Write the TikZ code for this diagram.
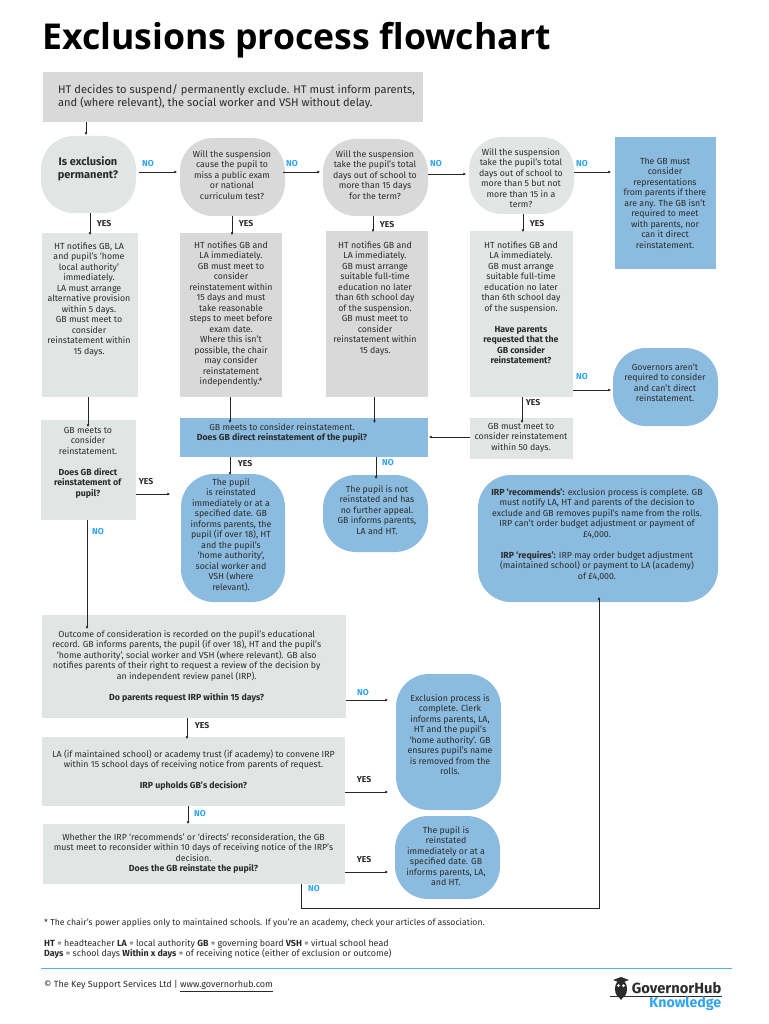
\documentclass[tikz,border=0pt]{standalone}
\usepackage{fontspec}
\setmainfont{Fira Sans}
\newfontfamily\titlefont{Open Sans}
\usetikzlibrary{arrows.meta}
\definecolor{pale}{HTML}{E1E6E5}
\definecolor{midgrey}{HTML}{D9D9D9}
\definecolor{skyblue}{HTML}{8BBCDF}
\definecolor{nocol}{HTML}{2FA4F2}
\definecolor{inkc}{HTML}{2B2B2B}
\newcommand{\bodyfont}{\fontsize{8.8}{10.5}\selectfont}
\newcommand{\firstl}{\rule{0pt}{8pt}}
\newcommand{\bx}[9]{%
  \pgfmathsetmacro\cxx{(#3+#5)/2}%
  \pgfmathsetmacro\cyy{(#4+#6)/2}%
  \pgfmathsetmacro\ww{#5-#3}%
  \pgfmathsetmacro\hh{#6-#4}%
  \pgfmathsetmacro\ty{#8-5}%
  \node[#2,minimum width=\ww pt,minimum height=\hh pt] (#1) at (\cxx,\cyy) {};
  \node[txt] (#1-t) at (#7,\ty) {\firstl #9};
}
\tikzset{
  x=1pt,y=-1pt,
  txt/.style={anchor=north,inner sep=0pt,align=center,text=inkc,font=\bodyfont},
  pbox/.style={fill=pale,inner sep=0pt,outer sep=0pt},
  gbox/.style={fill=midgrey,inner sep=0pt,outer sep=0pt},
  bbox/.style={fill=skyblue,inner sep=0pt,outer sep=0pt},
  pdec/.style={pbox,rounded corners=33pt},
  gdec/.style={gbox,rounded corners=33pt},
  bdec/.style={bbox,rounded corners=33pt},
  arr/.style={draw=black!85,line width=0.9pt,-{Latex[length=2.6pt,width=2.8pt]}},
  yeslab/.style={font=\fontsize{8.6}{10}\selectfont\bfseries,text=inkc,inner sep=0pt},
  nolab/.style={font=\fontsize{8.6}{10}\selectfont\bfseries,text=nocol,inner sep=0pt},
}
\begin{document}
\begin{tikzpicture}
\useasboundingbox (0,0) rectangle (768,1024);
\fill[white] (0,0) rectangle (768,1024);
\node[anchor=west,inner sep=0pt,font=\titlefont\fontsize{35.6}{40}\selectfont\bfseries,text=black] (title) at (42,40) {Exclusions process flowchart};

% top
\node[gbox,minimum width=380pt,minimum height=50pt] (top) at (233,97) {};
\node[anchor=north west,inner sep=0pt,align=left,text=inkc,font=\fontsize{11.1}{13}\selectfont] (top-t) at (58,84) {HT decides to suspend/ permanently exclude. HT must inform parents,\\and (where relevant), the social worker and VSH without delay.};

% decisions
\bx{d1}{pdec}{41}{136}{136}{213}{88}{161}{\fontsize{11}{13}\selectfont\textbf{Is exclusion}\\[2.5pt]\fontsize{11}{13}\selectfont\textbf{permanent?}}
\bx{d2}{gdec}{180}{138}{285}{216}{232}{154}{Will the suspension\\cause the pupil to\\miss a public exam\\or national\\curriculum test?}
\bx{d3}{gdec}{323}{139}{428}{216}{375}{154}{Will the suspension\\take the pupil's total\\days out of school to\\more than 15 days\\for the term?}
\bx{d4}{pdec}{469}{137}{574}{214}{521}{152}{Will the suspension\\take the pupil's total\\days out of school to\\more than 5 but not\\more than 15 in a\\term?}
\bx{r1}{bbox}{615}{137}{716}{269}{665}{161}{The GB must\\consider\\representations\\from parents if there\\are any. The GB isn't\\required to meet\\with parents, nor\\can it direct\\reinstatement.}

% second row
\bx{b1}{pbox}{42}{233}{138}{397}{89}{246}{HT notifies GB, LA\\and pupil's ‘home\\local authority’\\immediately.\\LA must arrange\\alternative provision\\within 5 days.\\GB must meet to\\consider\\reinstatement within\\15 days.}
\bx{b2}{gbox}{180}{233}{282}{397}{231}{245}{HT notifies GB and\\LA immediately.\\GB must meet to\\consider\\reinstatement within\\15 days and must\\take reasonable\\steps to meet before\\exam date.\\Where this isn't\\possible, the chair\\may consider\\reinstatement\\independently.*}
\bx{b3}{gbox}{326}{231}{428}{397}{375}{245}{HT notifies GB and\\LA immediately.\\GB must arrange\\suitable full-time\\education no later\\than 6th school day\\of the suspension.\\GB must meet to\\consider\\reinstatement within\\15 days.}
\bx{b4}{pbox}{470}{231}{573}{397}{521}{245}{HT notifies GB and\\LA immediately.\\GB must arrange\\suitable full-time\\education no later\\than 6th school day\\of the suspension.\\[10.5pt]\textbf{Have parents}\\\textbf{requested that the}\\\textbf{GB consider}\\\textbf{reinstatement?}}
\bx{gov}{bdec}{613}{348}{718}{426}{665}{367}{Governors aren't\\required to consider\\and can't direct\\reinstatement.}

% third row
\bx{m50}{pbox}{470}{418}{573}{459}{521}{426}{GB must meet to\\consider reinstatement\\within 50 days.}
\bx{big}{bbox}{180}{418}{428}{457}{282}{427}{GB meets to consider reinstatement.\\\textbf{Does GB direct reinstatement of the pupil?}}
\bx{gbm}{pbox}{41}{420}{136}{520}{88}{430}{GB meets to\\consider\\reinstatement.\\[10.5pt]\textbf{Does GB direct}\\\textbf{reinstatement of}\\\textbf{pupil?}}
\bx{pr}{bdec}{181}{474}{285}{602}{231}{482}{The pupil\\is reinstated\\immediately or at a\\specified date. GB\\informs parents, the\\pupil (if over 18), HT\\and the pupil's\\‘home authority’,\\social worker and\\VSH (where\\relevant).}
\bx{nr}{bdec}{323}{475}{428}{552}{377}{489}{The pupil is not\\reinstated and has\\no further appeal.\\GB informs parents,\\LA and HT.}
\bx{irp}{bdec}{478}{475}{718}{602}{597}{492}{\textbf{IRP ‘recommends’:} exclusion process is complete. GB\\must notify LA, HT and parents of the decision to\\exclude and GB removes pupil's name from the rolls.\\IRP can't order budget adjustment or payment of\\£4,000.\\[10.5pt]\textbf{IRP ‘requires’:} IRP may order budget adjustment\\(maintained school) or payment to LA (academy)\\of £4,000.}

% lower
\bx{out}{pbox}{42}{615}{346}{718}{186.7}{634}{Outcome of consideration is recorded on the pupil's educational\\record. GB informs parents, the pupil (if over 18), HT and the pupil's\\‘home authority’, social worker and VSH (where relevant). GB also\\notifies parents of their right to request a review of the decision by\\an independent review panel (IRP).\\[10.5pt]\textbf{Do parents request IRP within 15 days?}}
\bx{la}{pbox}{42}{737}{345}{806}{193.5}{754}{LA (if maintained school) or academy trust (if academy) to convene IRP\\within 15 school days of receiving notice from parents of request.\\[10.5pt]\textbf{IRP upholds GB's decision?}}
\bx{wh}{pbox}{43}{824}{345}{884}{193.5}{837}{Whether the IRP ‘recommends’ or ‘directs’ reconsideration, the GB\\must meet to reconsider within 10 days of receiving notice of the IRP's\\decision.\\\textbf{Does the GB reinstate the pupil?}}
\bx{ex}{bdec}{396}{674}{501}{810}{450}{698}{Exclusion process is\\complete. Clerk\\informs parents, LA,\\HT and the pupil's\\‘home authority’. GB\\ensures pupil's name\\is removed from the\\rolls.}
\bx{pr2}{bdec}{395}{816}{500}{899}{446}{830}{The pupil is\\reinstated\\immediately or at a\\specified date. GB\\informs parents, LA,\\and HT.}

% connectors
\draw[arr] (top.south -| 86,0) -- ([yshift=1pt]d1.north -| 86,0);
\draw[arr] (d1.east |- 0,172) ++(3,0) -- ([xshift=-3pt]d2.west |- 0,172);
\draw[arr] (d2.east |- 0,172) ++(-2,0) -- ([xshift=-3pt]d3.west |- 0,172);
\draw[arr] (d3.east |- 0,174) -- ([xshift=-3pt]d4.west |- 0,174);
\draw[arr] (d4.east |- 0,172) -- ([xshift=-4pt]r1.west |- 0,172);
\draw[arr] (d1.south -| 90,0) -- ([yshift=-2pt]b1.north -| 90,0);
\draw[arr] (d2.south -| 232,0) -- ([yshift=-2pt]b2.north -| 232,0);
\draw[arr] (d3.south -| 373,0) -- ([yshift=-1pt]b3.north -| 373,0);
\draw[arr] (d4.south -| 523,0) -- ([yshift=-1pt]b4.north -| 523,0);
\draw[arr] (b4.east |- 0,390) -- ([xshift=-2pt]gov.west |- 0,390);
\draw[arr] (b1.south -| 88,0) -- ([yshift=-7pt]gbm.north -| 88,0);
\draw[arr] (b2.south -| 230,0) -- ([yshift=-5pt]big.north -| 230,0);
\draw[arr] (b3.south -| 374.5,0) -- ([yshift=-5pt]big.north -| 374.5,0);
\draw[arr] (b4.south -| 522,0) -- ([yshift=-5pt]m50.north -| 522,0);
\draw[arr] (m50.west |- 0,437) -- ([xshift=1pt]big.east |- 0,437);
\draw[arr] (gbm.east |- 0,494) -- ([xshift=-11pt]pr.west |- 0,494);
\draw[arr] (gbm.south -| 87,0) -- ([yshift=-14pt]out.north -| 87,0);
\draw[arr] (big.south -| 230,0) -- ([yshift=-1pt]pr.north -| 230,0);
\draw[arr] (big.south -| 376,0) -- ([yshift=-4pt]nr.north -| 376,0);
\draw[arr] (out.east |- 0,700) -- ([xshift=-8pt]ex.west |- 0,700);
\draw[arr] (la.east |- 0,792) -- ([xshift=-8pt]ex.west |- 0,792);
\draw[arr] (out.south -| 187,0) -- ([yshift=-2pt]la.north -| 187,0);
\draw[arr] (la.south -| 188,0) -- ([yshift=0pt]wh.north -| 188,0);
\draw[arr] (wh.east |- 0,872) -- ([xshift=-7pt]pr2.west |- 0,872);
\coordinate (c1) at (301,908);
\coordinate (c2) at (599,908);
\draw[arr] (wh.south -| c1) -- (c1) -- (c2) -- ([yshift=5pt]irp.south -| c2);

% labels
\node[nolab] (l1) at (148,164) {NO};
\node[nolab] (l2) at (292,164) {NO};
\node[nolab] (l3) at (436,164) {NO};
\node[nolab] (l4) at (582,164) {NO};
\node[nolab] (l5) at (582,377) {NO};
\node[nolab] (l6) at (98,532) {NO};
\node[nolab] (l7) at (388,463) {NO};
\node[nolab] (l8) at (363,693) {NO};
\node[nolab] (l9) at (200,814) {NO};
\node[nolab] (l10) at (314,889) {NO};
\node[yeslab] (y1) at (104,224) {YES};
\node[yeslab] (y2) at (246,224) {YES};
\node[yeslab] (y3) at (387,225) {YES};
\node[yeslab] (y4) at (537,224) {YES};
\node[yeslab] (y5) at (533,403) {YES};
\node[yeslab] (y6) at (146,482) {YES};
\node[yeslab] (y7) at (245,464) {YES};
\node[yeslab] (y8) at (202,726) {YES};
\node[yeslab] (y9) at (364,780) {YES};
\node[yeslab] (y10) at (364,860) {YES};

% footer
\node[anchor=north west,inner sep=0pt,align=left,text=inkc,font=\fontsize{8.7}{10.5}\selectfont] (fn) at (44,919) {* The chair's power applies only to maintained schools. If you're an academy, check your articles of association.};
\node[anchor=north west,inner sep=0pt,align=left,text=inkc,font=\fontsize{8.9}{10.8}\selectfont] (key) at (44,939) {\textbf{HT} = headteacher \textbf{LA} = local authority \textbf{GB} = governing board \textbf{VSH} = virtual school head\\\textbf{Days} = school days \textbf{Within x days} = of receiving notice (either of exclusion or outcome)};
\draw[nocol!85!white,line width=1pt] (41,968.5) -- (732,968.5);
\node[anchor=west,inner sep=0pt,text=inkc,font=\fontsize{9}{10}\selectfont] (cr) at (44,986) {© The Key Support Services Ltd | \underline{www.governorhub.com}};

% logo
\fill[inkc] (621,977) -- (629,980) -- (621,983) -- (613,980) -- cycle;
\fill[inkc] (621,989) ellipse (6pt and 9pt);
\fill[inkc] (621,1000) -- (618,996) -- (624,996) -- cycle;
\fill[white] (618.5,985.5) circle (1.5pt) (623.5,985.5) circle (1.5pt);
\draw[inkc,line width=0.7pt] (610,996) -- (722,996);
\node[anchor=east,inner sep=0pt,text=inkc,font=\fontsize{14.7}{16}\selectfont\bfseries] (gh) at (721.5,988.5) {GovernorHub};
\node[anchor=east,inner sep=0pt,text=nocol,font=\fontsize{14.2}{16}\selectfont\bfseries] (kn) at (721.5,1004) {Knowledge};
\end{tikzpicture}
\end{document}
